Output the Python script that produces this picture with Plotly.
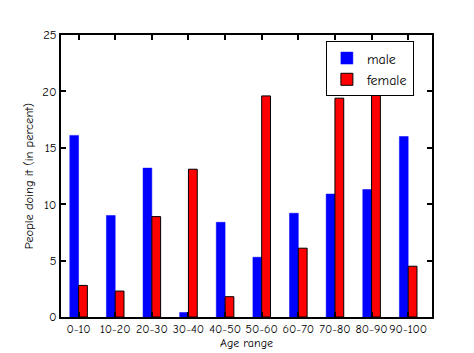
import plotly.graph_objects as go

categories = ["0-10", "10-20", "20-30", "30-40", "40-50", "50-60", "60-70", "70-80", "80-90", "90-100"]
male = [16.1, 9.0, 13.2, 0.4, 8.4, 5.3, 9.2, 10.9, 11.3, 16.0]
female = [2.8, 2.3, 8.9, 13.1, 1.8, 19.6, 6.1, 19.4, 20.0, 4.5]
yticks = [0, 5, 10, 15, 20, 25]

FONT = "Comic Sans MS, Humor Sans, Comic Neue, DejaVu Sans, sans-serif"
ind = list(range(len(categories)))
W = 0.24

fig = go.Figure()
fig.add_trace(go.Bar(x=ind, y=male, name="male", width=W, offset=-W,
                     marker=dict(color="#0000ff", line=dict(color="#0000ff", width=0.5))))
fig.add_trace(go.Bar(x=ind, y=female, name="female", width=W, offset=0,
                     marker=dict(color="#ff0000", line=dict(color="#000000", width=1))))

fig.update_layout(
    width=474, height=353,
    margin=dict(l=61, r=42, t=35, b=36),
    plot_bgcolor="white", paper_bgcolor="white",
    barmode="overlay",
    font=dict(family=FONT, color="black", size=12),
    showlegend=True,
    legend=dict(x=0.714, y=0.977, xanchor="left", yanchor="top",
                bgcolor="white", bordercolor="black", borderwidth=1,
                itemwidth=30, tracegroupgap=0,
                font=dict(size=14, family=FONT)),
    xaxis=dict(range=[-0.48, 9.65], tickmode="array", tickvals=ind, ticktext=categories,
               ticks="inside", ticklen=5, tickwidth=2, tickcolor="black", tickangle=0,
               showline=True, linecolor="black", linewidth=2, mirror="ticks",
               showgrid=False, zeroline=False, automargin=False,
               title=dict(text="Age range", font=dict(size=12), standoff=2),
               tickfont=dict(size=12)),
    yaxis=dict(range=[0, 25], tickmode="array", tickvals=yticks,
               ticks="inside", ticklen=5, tickwidth=2, tickcolor="black",
               showline=True, linecolor="black", linewidth=2, mirror="ticks",
               showgrid=False, zeroline=False, automargin=False,
               title=dict(text="People doing it (in percent)", font=dict(size=12.5), standoff=6),
               tickfont=dict(size=12.5)),
)

fig.write_html("out.html")
